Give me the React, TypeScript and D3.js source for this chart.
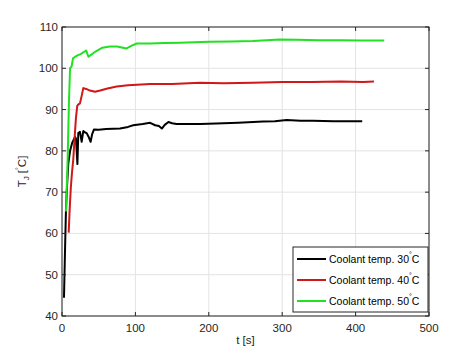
import React from 'react';
import * as d3 from 'd3';

// time [s] and junction temperature [°C] per coolant temperature
const tBlack = [2.7, 4, 5.4, 7, 8.6, 11, 14, 17.7, 19, 21, 22.2, 24.5, 26.8, 29, 31, 33.6, 36, 39, 41, 43.6, 50, 60, 79, 90, 97, 110, 120, 127, 132, 136, 140, 145, 150, 156, 170, 188, 210, 240, 274, 290, 306, 325, 342, 370, 390, 409];
const vBlack = [44.4, 55, 65.7, 72, 77, 80, 82, 83.4, 83, 76.8, 84.3, 84.6, 82.2, 84.8, 84.5, 84.3, 83.5, 82.2, 84, 85.2, 85.1, 85.3, 85.4, 85.8, 86.2, 86.5, 86.8, 86.2, 86.0, 85.4, 86.3, 87, 86.7, 86.5, 86.5, 86.5, 86.6, 86.8, 87.1, 87.2, 87.5, 87.3, 87.3, 87.2, 87.2, 87.2];

const tRed = [9.1, 10.5, 12, 13.5, 15.4, 17.5, 19, 20.8, 22, 24.5, 27, 29, 33, 38, 45, 52, 62, 74.5, 90, 120, 150, 188, 220, 260, 300, 340, 380, 410, 425];
const vRed = [60.2, 66, 71, 74.5, 78, 84, 88, 90.9, 91.2, 91.5, 93.5, 95.2, 95, 94.6, 94.3, 94.6, 95.1, 95.6, 95.9, 96.2, 96.2, 96.5, 96.4, 96.5, 96.7, 96.7, 96.8, 96.7, 96.8];

const tGreen = [5.5, 7.7, 9.5, 11, 13, 15, 18, 22, 26, 30, 33, 36, 40, 45, 55, 65, 75, 88, 95, 102, 120, 140, 161, 200, 230, 260, 297, 320, 350, 380, 410, 439];
const vGreen = [65.3, 78, 92, 100, 100.4, 102.4, 102.8, 103.2, 103.5, 104, 104.3, 102.8, 103.3, 104, 105, 105.3, 105.3, 104.8, 105.5, 106.0, 106.0, 106.1, 106.2, 106.4, 106.5, 106.6, 107.0, 106.9, 106.8, 106.8, 106.7, 106.7];

const seriesLabels = ['30', '40', '50'];
const seriesColors = ['#000000', '#d01818', '#22e022'];
const xTicks = [0, 100, 200, 300, 400, 500];
const yTicks = [40, 50, 60, 70, 80, 90, 100, 110];

const W = 474;
const H = 355;
const margin = { top: 27, right: 45, bottom: 39, left: 62 };
const font = 'Liberation Sans, Arial, sans-serif';
const axisColor = '#262626';

const App = () => {
  const x = d3.scaleLinear().domain([0, 500]).range([margin.left, W - margin.right]);
  const y = d3.scaleLinear().domain([40, 110]).range([H - margin.bottom, margin.top]);
  const x0 = x(0), x1 = x(500), y0 = y(40), y1 = y(110);

  const series = [
    { t: tBlack, v: vBlack },
    { t: tRed, v: vRed },
    { t: tGreen, v: vGreen },
  ];
  const line = d3.line<number>();

  const paths = series.map((s) =>
    line(s.t.map((t, i) => [x(t), y(s.v[i])] as [number, number]) as any)
  );

  // legend
  const lg = { x: 293, y: 247, w: 135, h: 65 };

  return (
    <svg width={W} height={H} style={{ position: 'absolute', left: 0, top: 0, background: '#fff' }}>
      <rect x={0} y={0} width={W} height={H} fill="#fff" />
      {/* grid */}
      <g stroke="#e3e3e3" strokeWidth={1}>
        {xTicks.map((t) => (
          <line key={'gx' + t} x1={x(t)} x2={x(t)} y1={y0} y2={y1} />
        ))}
        {yTicks.map((t) => (
          <line key={'gy' + t} x1={x0} x2={x1} y1={y(t)} y2={y(t)} />
        ))}
      </g>
      {/* data */}
      {paths.map((d, i) => (
        <path key={i} d={d || ''} fill="none" stroke={seriesColors[i]} strokeWidth={2} strokeLinejoin="round" />
      ))}
      {/* box and ticks */}
      <rect x={x0} y={y1} width={x1 - x0} height={y0 - y1} fill="none" stroke={axisColor} strokeWidth={1} />
      <g stroke={axisColor} strokeWidth={1}>
        {xTicks.map((t) => (
          <g key={'tx' + t}>
            <line x1={x(t)} x2={x(t)} y1={y0} y2={y0 - 4} />
            <line x1={x(t)} x2={x(t)} y1={y1} y2={y1 + 4} />
          </g>
        ))}
        {yTicks.map((t) => (
          <g key={'ty' + t}>
            <line x1={x0} x2={x0 + 4} y1={y(t)} y2={y(t)} />
            <line x1={x1} x2={x1 - 4} y1={y(t)} y2={y(t)} />
          </g>
        ))}
      </g>
      <g fontFamily={font} fontSize={11.5} fill={axisColor}>
        {xTicks.map((t) => (
          <text key={'lx' + t} x={x(t)} y={y0 + 16} textAnchor="middle">{t}</text>
        ))}
        {yTicks.map((t) => (
          <text key={'ly' + t} x={x0 - 4} y={y(t) + 4} textAnchor="end">{t}</text>
        ))}
      </g>
      {/* axis labels */}
      <text x={(x0 + x1) / 2} y={344} textAnchor="middle" fontFamily={font} fontSize={11.5} fill={axisColor}>
        t [s]
      </text>
      <text
        transform={`translate(26,${(y0 + y1) / 2}) rotate(-90)`}
        textAnchor="middle"
        fontFamily={font}
        fontSize={11.5}
        fill={axisColor}
      >
        T<tspan fontSize={8} dy={3}>J</tspan>
        <tspan dy={-3}> [</tspan>
        <tspan fontSize={7} dy={-5}>°</tspan>
        <tspan dy={5}>C]</tspan>
      </text>
      {/* legend */}
      <rect x={lg.x} y={lg.y} width={lg.w} height={lg.h} fill="#fff" stroke={axisColor} strokeWidth={1} />
      {seriesLabels.map((lab, i) => {
        const ry = lg.y + 12 + i * 21;
        return (
          <g key={'lg' + i}>
            <line x1={lg.x + 4} x2={lg.x + 33} y1={ry} y2={ry} stroke={seriesColors[i]} strokeWidth={2} />
            <text x={lg.x + 36} y={ry + 4} fontFamily={font} fontSize={10.5} fill="#000">
              Coolant temp. {lab}
              <tspan fontSize={7} dy={-6}>°</tspan>
              <tspan dy={6}>C</tspan>
            </text>
          </g>
        );
      })}
    </svg>
  );
};

export default App;
